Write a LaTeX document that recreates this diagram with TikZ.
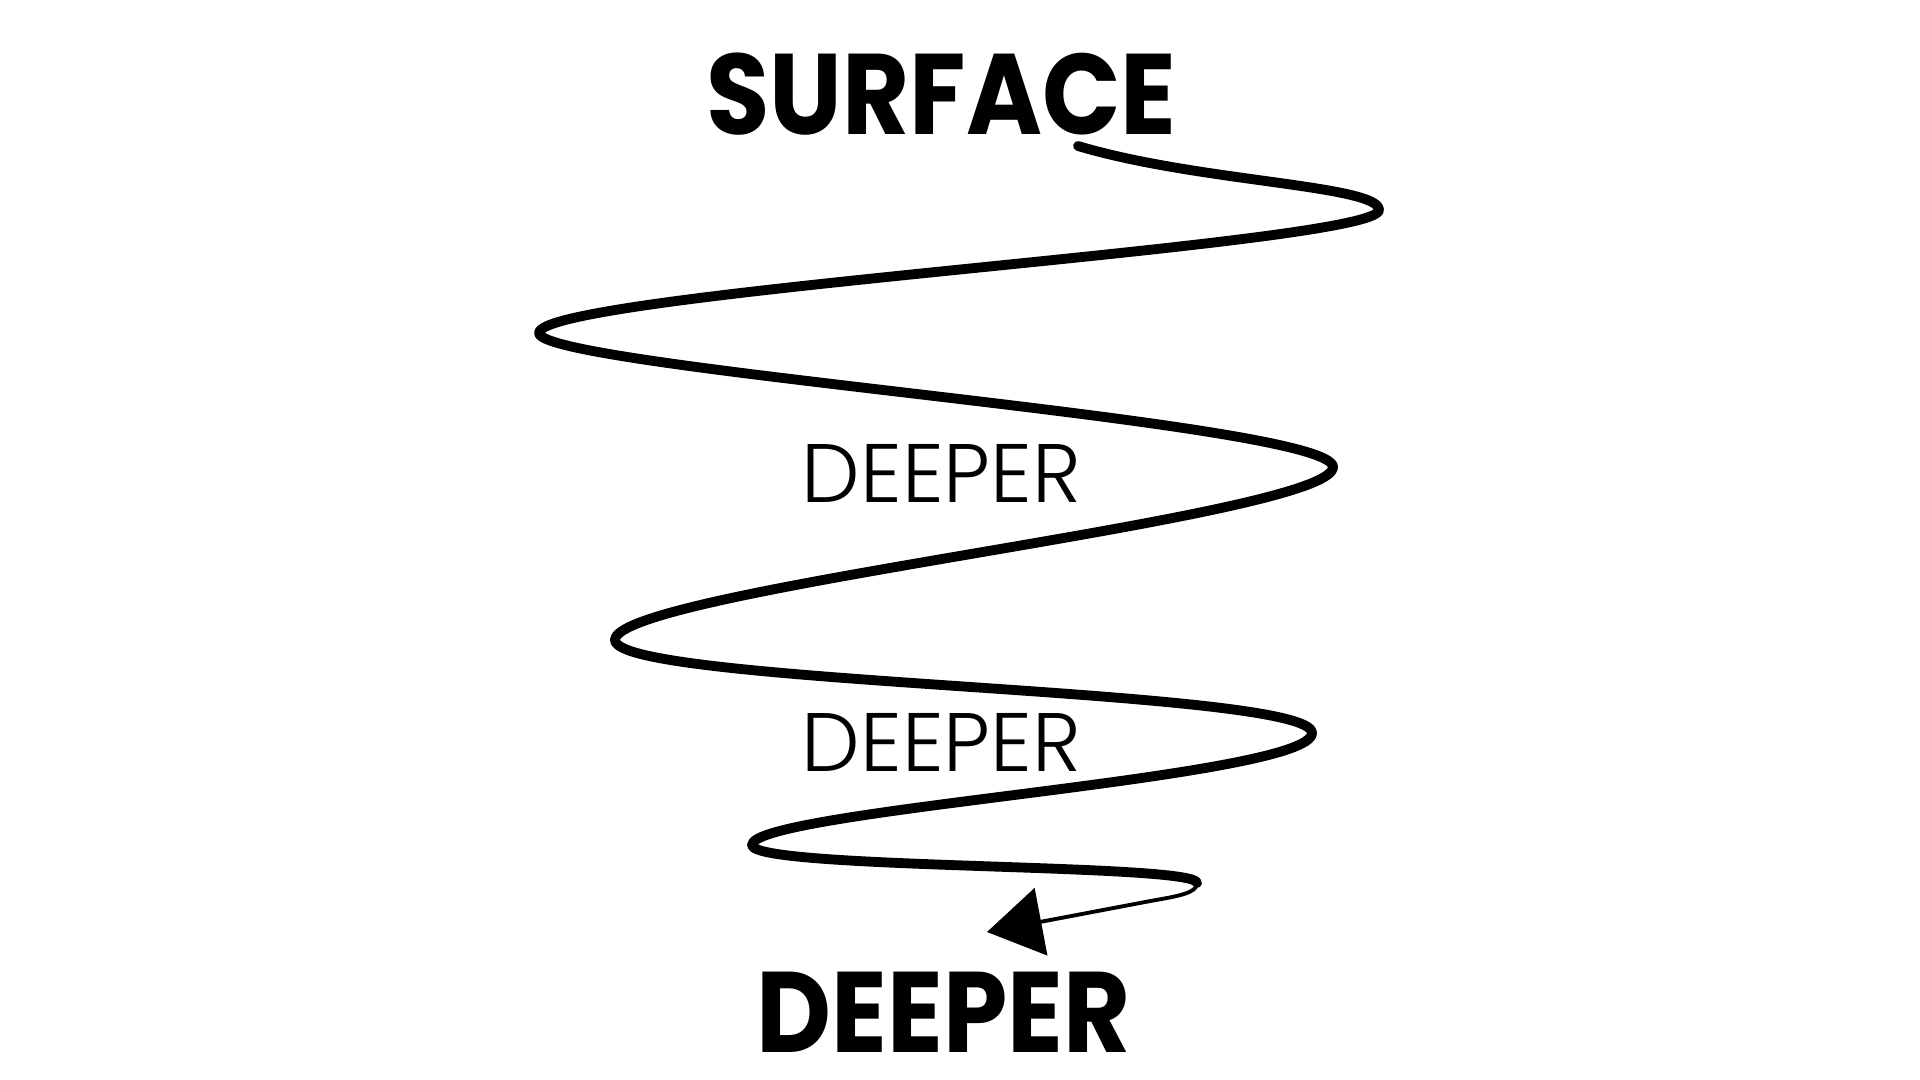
\documentclass[tikz,border=0pt]{standalone}
\usepackage{fontspec}
\setmainfont{Poppins}
\newfontfamily\lightfont{Poppins Light}
\newfontfamily\heavyfont{Poppins Bold}[FakeStretch=0.9]
\usepackage{tikz}
\usetikzlibrary{positioning,calc}
\usetikzlibrary{arrows.meta}
\tikzstyle{estremo} = [font=\heavyfont\fontsize{32.6}{36}\selectfont, inner sep=0pt, text depth=0pt, anchor=base]
\tikzstyle{livello} = [font=\lightfont\fontsize{23.6}{26}\selectfont, inner sep=0pt, text depth=0pt, anchor=base]
\tikzstyle{pennellata} = [line width=2.8pt, line cap=round, line join=round]
\tikzstyle{arrow} = [line width=1.1pt, line cap=round, -{Triangle[length=5.5mm, width=6.8mm]}]
\begin{document}
\begin{tikzpicture}
\useasboundingbox (0,0) rectangle (19.2,10.8);
\node (surface) at (9.415,9.45) [estremo] {SURFACE};
\node (deeper1) at (9.415,5.77) [livello] {DEEPER};
\node (deeper2) at (9.415,3.08) [livello] {DEEPER};
\node (deeper3) at (9.435,0.27) [estremo] {DEEPER};
% punti di svolta della spirale
\coordinate (inizio) at (10.78,9.34);
\coordinate (d1) at (13.79,8.70);
\coordinate (s1) at (5.39,7.47);
\coordinate (d2) at (13.33,6.13);
\coordinate (s2) at (6.15,4.40);
\coordinate (d3) at (13.12,3.47);
\coordinate (s3) at (7.52,2.35);
\coordinate (d4) at (11.97,1.97);
\coordinate (coda) at (11.40,1.77);
\coordinate (punta) at (9.87,1.48);
\draw[pennellata] (inizio) .. controls +(1.2,-0.36) and +(0,0.25) .. (d1)
  .. controls +(0,-0.35) and +(0,0.4) .. (s1)
  .. controls +(0,-0.35) and +(0,0.45) .. (d2)
  .. controls +(0,-0.5) and +(0,0.5) .. (s2)
  .. controls +(0,-0.45) and +(0,0.45) .. (d3)
  .. controls +(0,-0.45) and +(0,0.35) .. (s3)
  .. controls +(0,-0.25) and +(0,0.2) .. (d4);
\draw[arrow] (d4) .. controls +(0,-0.12) and +(0.3,0.06) .. (coda) -- (punta);
\end{tikzpicture}
\end{document}
